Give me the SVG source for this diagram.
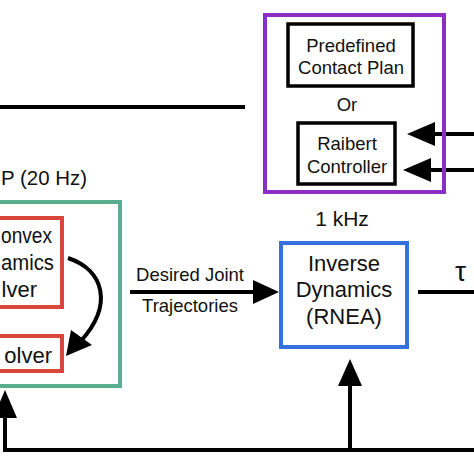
<svg xmlns="http://www.w3.org/2000/svg" width="474" height="474" viewBox="0 0 474 474">
<defs>
<style>
text{font-family:"Liberation Sans",Arial,sans-serif;fill:#111}
.ln{stroke:#000;stroke-width:4;fill:none}
.bk{fill:#fff;stroke:#000;stroke-width:3.5}
.t18{font-size:18.5px}
.t22{font-size:22px}
.mid{text-anchor:middle}
.end{text-anchor:end}
</style>
</defs>
<rect width="474" height="474" fill="#fff"/>
<g id="connectors">
<line class="ln" x1="0" y1="107" x2="245" y2="107"/>
<line class="ln" x1="474" y1="134" x2="432" y2="134"/><path d="M407,134 L435,122 L435,146 z"/>
<line class="ln" x1="474" y1="170" x2="428" y2="170"/><path d="M403,170 L431,158 L431,182 z"/>
<line class="ln" x1="130" y1="292" x2="256" y2="292"/><path d="M279,292 L253,280 L253,304 z"/>
<line class="ln" x1="418" y1="292" x2="474" y2="292"/>
<polyline class="ln" points="5,418 5,450 474,450"/><path d="M5,390 L-7,418 L17,418 z"/>
<line class="ln" x1="350" y1="450" x2="350" y2="383"/><path d="M350,359 L338,386 L362,386 z"/>
<path class="ln" d="M68,258 C104,270 114,305 80,342"/><path d="M66,356 L71,330 L92,345 z"/>
</g>
<g id="contact-group"><rect x="265" y="15" width="179" height="177" fill="none" stroke="#8B2FC4" stroke-width="4"/></g>
<g id="predefined"><rect class="bk" x="288" y="24" width="125" height="62"/>
<text class="t18 mid" x="351" y="52">Predefined</text><text class="t18 mid" x="351" y="74">Contact Plan</text></g>
<g id="or"><text class="t18 mid" x="347" y="111">Or</text></g>
<g id="raibert"><rect class="bk" x="298" y="123" width="97" height="61"/>
<text class="t18 mid" x="347" y="150">Raibert</text><text class="t18 mid" x="347" y="173">Controller</text></g>
<g id="mp"><text style="font-size:21px" x="1" y="185" textLength="86" lengthAdjust="spacingAndGlyphs">P (20 Hz)</text>
<rect x="-10" y="202" width="130" height="184" fill="none" stroke="#5BAD8F" stroke-width="4"/></g>
<g id="dyn-solver"><rect x="-10" y="218" width="72" height="89" fill="none" stroke="#D9473A" stroke-width="4"/>
<text class="t22" x="1" y="243" textLength="51" lengthAdjust="spacingAndGlyphs">onvex</text><text class="t22" x="1" y="270" textLength="53" lengthAdjust="spacingAndGlyphs">amics</text><text class="t22 end" x="37" y="297">lver</text></g>
<g id="kin-solver"><rect x="-10" y="336" width="72" height="35" fill="none" stroke="#D9473A" stroke-width="4"/>
<text class="t22 end" x="52" y="363">olver</text></g>
<g id="desired"><text class="t18 mid" x="190" y="281">Desired Joint</text><text class="t18 mid" x="190" y="312">Trajectories</text></g>
<g id="khz"><text class="mid" style="font-size:21px" x="342" y="226">1 kHz</text></g>
<g id="rnea"><rect x="281" y="243" width="126" height="104" fill="none" stroke="#3570E0" stroke-width="4"/>
<text class="t22 mid" x="344" y="271">Inverse</text><text class="t22 mid" x="344" y="297">Dynamics</text><text class="t22 mid" x="344" y="324">(RNEA)</text></g>
<g id="tau"><text style="font-size:28px" x="455" y="281">τ</text></g>
</svg>
